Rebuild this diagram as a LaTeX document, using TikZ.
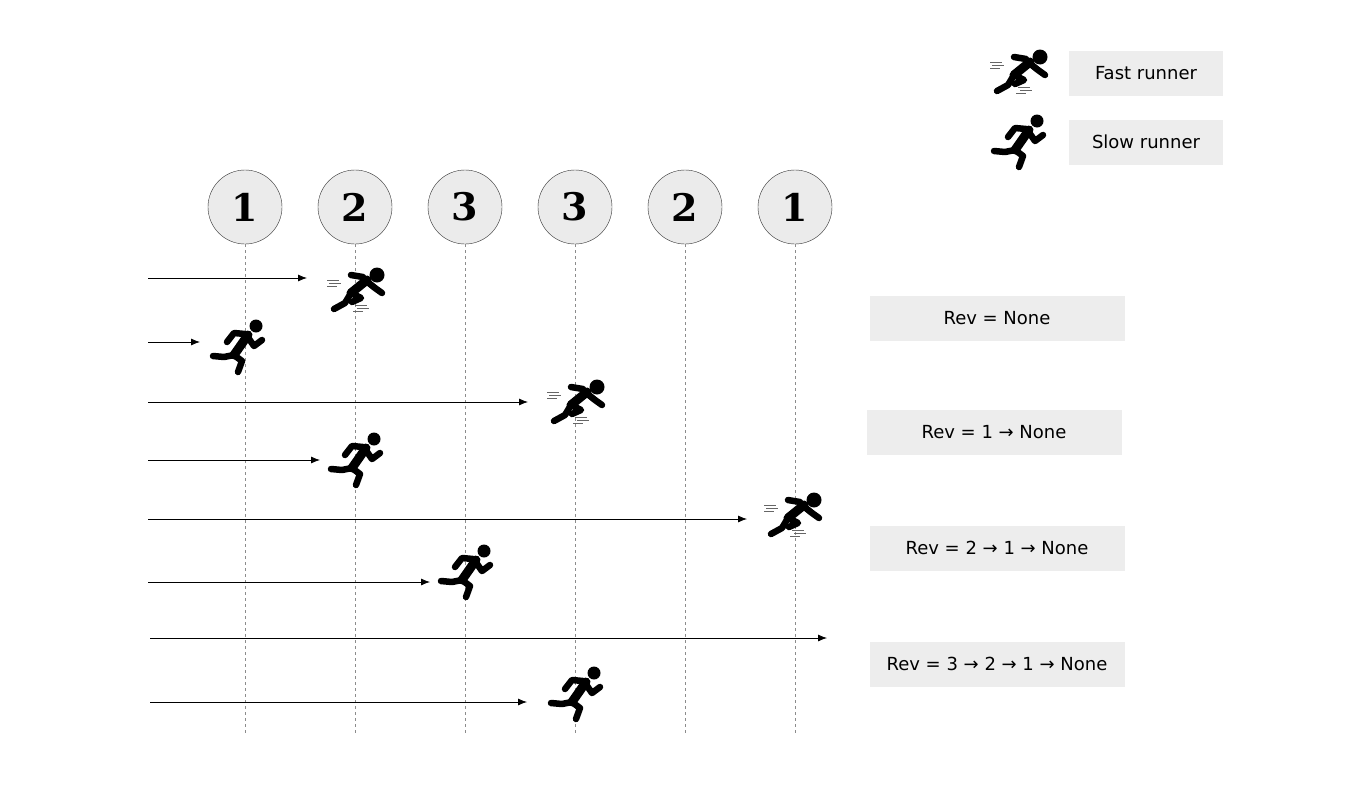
\documentclass[tikz,border=0pt]{standalone}
\usepackage{fontspec}
\setmainfont{DejaVu Sans}
\newfontfamily\numfont{DejaVu Serif}
\usetikzlibrary{arrows.meta}
\begin{document}
\begin{tikzpicture}[x=1pt,y=-1pt,
  lab/.style={fill=black!7,minimum height=45pt,font=\fontsize{18}{20}\selectfont},
  num/.style={circle,draw=black!80,fill=black!8,minimum size=74pt,inner sep=0pt,font=\numfont\bfseries\fontsize{38}{38}\selectfont},
  arr/.style={-{Latex[length=9pt,width=7pt]},line width=0.8pt},
  guide/.style={dashed,black!45,line width=0.6pt},
  limb/.style={line width=6.5pt,line cap=round,line join=round},
  slowrun/.pic={
    \fill (19,-19) circle (6.5);
    \draw[limb,line width=9pt] (11,-10) -- (-3,10);
    \draw[limb] (10,-9) -- (17,1) -- (25,-5);
    \draw[limb] (8,-11) -- (-3,-12) -- (-10,-3);
    \draw[limb] (-3,10) -- (-13,12) -- (-24,11);
    \draw[limb] (-3,10) -- (5,16) -- (1,27);
  },
  fastrun/.pic={
    \fill (22,-15) circle (7.5);
    \draw[limb,line width=9pt] (12,-10) -- (-4,3);
    \draw[limb] (10,-10) -- (20,-2) -- (27,3);
    \draw[limb] (8,-13) -- (-4,-15);
    \draw[limb] (-4,3) -- (6,8) -- (-3,12);
    \draw[limb] (-4,3) -- (-10,13) -- (-21,19);
    \draw[line width=0.8pt,black!60] (-28,-10)--(-16,-10) (-26,-7)--(-14,-7) (-28,-4)--(-18,-4)
      (0,15)--(12,15) (2,18)--(14,18) (-2,21)--(8,21);
  }]
\useasboundingbox (0,0) rectangle (1370,809);
% legend
\pic at (1018,72) {fastrun};
\pic at (1018,140) {slowrun};
\node[lab,minimum width=154pt] (lf) at (1146,73) {Fast runner};
\node[lab,minimum width=154pt] (ls) at (1146,142) {Slow runner};
% circles and guides
\foreach \x/\n/\k in {245/1/a,355/2/b,465/3/c,575/3/d,685/2/e,795/1/f}{
  \node[num] (c\k) at (\x,207) {\n};
  \coordinate (e\k) at (\x,735);
  \draw[guide] (c\k.south) -- (e\k);
}
% arrows
\foreach \y/\xa/\xb/\i in {278/148/307/1,342/148/200/2,402/148/528/3,460/148/320/4,519/148/747/5,582/148/430/6,638/150/827/7,702/150/527/8}{
  \coordinate (s\i) at (\xa,\y); \coordinate (t\i) at (\xb,\y);
  \draw[arr] (s\i) -- (t\i);
}
% runners
\pic at (355,290) {fastrun};
\pic at (237,345) {slowrun};
\pic at (575,402) {fastrun};
\pic at (355,458) {slowrun};
\pic at (792,515) {fastrun};
\pic at (465,570) {slowrun};
\pic at (575,692) {slowrun};
% labels
\node[lab,minimum width=255pt] (r1) at (997,318) {Rev = None};
\node[lab,minimum width=255pt] (r2) at (994,432) {Rev = 1 → None};
\node[lab,minimum width=255pt] (r3) at (997,548) {Rev = 2 → 1 → None};
\node[lab,minimum width=255pt] (r4) at (997,664) {Rev = 3 → 2 → 1 → None};
\end{tikzpicture}
\end{document}
